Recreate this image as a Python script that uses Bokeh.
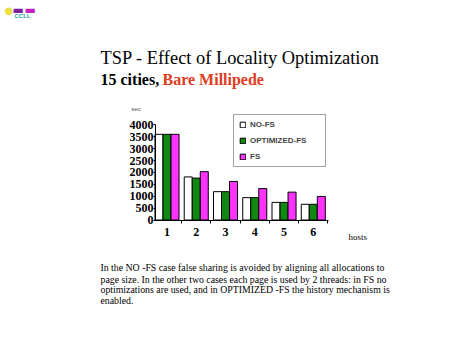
from bokeh.plotting import figure
from bokeh.models import Range1d, FixedTicker, Label, Legend, LegendItem, ColumnDataSource
from bokeh.transform import dodge
from bokeh.embed import file_html
from bokeh.resources import INLINE

# ---- data ----
hosts = [1, 2, 3, 4, 5, 6]
series_names = ["NO-FS", "OPTIMIZED-FS", "FS"]
no_fs = [3600, 1810, 1190, 940, 740, 660]
optimized_fs = [3600, 1760, 1190, 940, 740, 660]
fs = [3600, 2030, 1620, 1320, 1170, 990]
y_ticks = [0, 500, 1000, 1500, 2000, 2500, 3000, 3500, 4000]
x_label = "hosts"
y_label = "sec"
colors = ["#ffffff", "#118811", "#ff33ff"]

W, H = 458, 339
M = 0  # observed offset of the canvas in the photo
# page-pixel geometry of the chart's axes
FL, FR, FT, FB = 155, 328, 124.3, 219.5
X0, X1 = 0.607, 6.52
Y0, Y1 = 0, 4000

def fx(px):
    return X0 + (px - FL) / (FR - FL) * (X1 - X0)

def fy(py):
    return Y0 + (FB - py) / (FB - FT) * (Y1 - Y0)

p = figure(width=W, height=H, output_backend="svg", toolbar_location=None,
           x_range=Range1d(fx(M), fx(M + W)), y_range=Range1d(fy(M + H), fy(M)),
           min_border=0, outline_line_color=None)
p.grid.visible = False

bw = 0.274
src = ColumnDataSource(dict(x=hosts, a=no_fs, b=optimized_fs, c=fs))
renderers = []
for i, (col, c) in enumerate(zip(["a", "b", "c"], colors)):
    r = p.vbar(x=dodge("x", (i - 1) * bw), top=col, width=bw, bottom=0,
               source=src, fill_color=c, line_color="black", line_width=1)
    renderers.append(r)

# axes
xa = p.xaxis[0]
xa.fixed_location = Y0
xa.bounds = (X0, X1)
xa.ticker = FixedTicker(ticks=hosts, minor_ticks=[h + 0.5 for h in hosts])
xa.major_tick_out = 0
xa.major_tick_in = 0
xa.minor_tick_out = 3
xa.minor_tick_in = 0
xa.major_label_text_font = "Liberation Serif"
xa.major_label_text_font_style = "bold"
xa.major_label_text_font_size = "12px"
xa.major_label_text_color = "black"
xa.major_label_standoff = 5
xa.axis_line_color = "black"

ya = p.yaxis[0]
ya.fixed_location = X0
ya.bounds = (Y0, Y1)
ya.ticker = FixedTicker(ticks=y_ticks, minor_ticks=[])
ya.major_tick_out = 2
ya.major_tick_in = 0
ya.major_label_text_font = "Liberation Serif"
ya.major_label_text_font_style = "bold"
ya.major_label_text_font_size = "12px"
ya.major_label_text_color = "black"
ya.major_label_standoff = 0
ya.axis_line_color = "black"

# legend
legend = Legend(items=[LegendItem(label=n, renderers=[r]) for n, r in zip(series_names, renderers)],
                location=(233 - M, H - (166.7 - M)),
                label_text_font="Liberation Sans", label_text_font_style="bold",
                label_text_font_size="8px", label_height=8, label_width=70,
                glyph_width=7, glyph_height=7, spacing=7, padding=5, margin=0,
                label_standoff=4, border_line_color="#444444", border_line_width=1,
                background_fill_alpha=1)
p.add_layout(legend, "center")

def add_text(px, py, text, size, font="Liberation Serif", style="normal", color="black",
             align="left"):
    p.add_layout(Label(x=fx(px), y=fy(py), text=text, text_font=font,
                       text_font_style=style, text_font_size=size, text_color=color,
                       text_align=align, text_baseline="middle"))

# small logo in the corner (decorative)
add_text(4, 10, "●", "10px", font="DejaVu Sans", color="#e8e040")
add_text(12, 9, "▬", "12px", font="DejaVu Sans", color="#8020a0")
add_text(24, 9, "▬", "12px", font="DejaVu Sans", color="#c020c0")
add_text(14, 15, "CCLL", "6px", font="Liberation Sans", style="bold", color="#20a0a0")

add_text(100, 57, "TSP - Effect of Locality Optimization", "18.4px")
add_text(100, 79, "15 cities,", "16px", style="bold")
add_text(162, 79, "Bare Millipede", "16px", style="bold", color="#e03c1e")
add_text(131, 108, y_label, "6px", font="Liberation Sans", color="#555555")
add_text(348, 236, x_label, "9px")

caption = [
    "In the NO -FS case false sharing is avoided by aligning all allocations to",
    "page size.  In the other two cases each page is used by 2 threads: in FS no",
    "optimizations are used, and in OPTIMIZED -FS the history mechanism is",
    "enabled.",
]
caption_y = [267, 279, 289, 300]
for t, yy in zip(caption, caption_y):
    add_text(100, yy, t, "9.8px")

open("out.html", "w").write(file_html(p, INLINE))
